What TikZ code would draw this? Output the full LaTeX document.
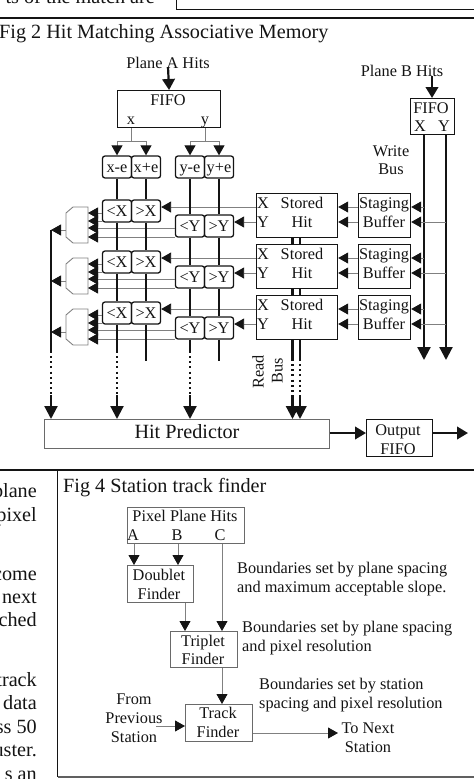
\documentclass[tikz,border=0pt]{standalone}
\usepackage{fontspec}
\setmainfont{Liberation Serif}
\usetikzlibrary{arrows.meta}
\definecolor{ink}{HTML}{141414}
\definecolor{wire}{HTML}{808080}
\tikzset{
  txt/.style={inner sep=0pt,text=ink,font=\fontsize{16.3}{18}\selectfont,text height=11pt,text depth=0pt},
  txtl/.style={txt,anchor=west},
  bigtxt/.style={txt,font=\fontsize{20.2}{22}\selectfont,text height=14pt,text depth=3.5pt},
  pagetxt/.style={bigtxt,anchor=base east},
  box/.style={draw=ink,line width=1.2pt,anchor=north west,inner sep=0pt},
  gbox/.style={draw=wire!80!ink,line width=0.9pt,anchor=north west,inner sep=0pt},
  cmp/.style={box,rounded corners=2.5pt,line width=1.3pt,minimum width=29pt,minimum height=22pt,txt,draw=ink,anchor=center},
  bus/.style={line width=2.2pt,draw=ink},
  busarrow/.style={bus,-{Triangle[length=11pt,width=12.5pt]}},
  bigarrow/.style={bus,-{Triangle[length=13pt,width=13pt]}},
  feed/.style={line width=0.9pt,draw=wire,-{Triangle[length=10pt,width=11pt,color=ink]}},
  plain/.style={line width=0.9pt,draw=wire},
  dotbus/.style={line width=2.2pt,draw=ink,dash pattern=on 2pt off 3.2pt}
}
\begin{document}
\begin{tikzpicture}[x=1pt,y=-1pt]
      \useasboundingbox (0,0) rectangle (474,779);
      % page leftovers above and beside the two figures
      \node[pagetxt] at (155,3) {ts of the match are};
      \coordinate (topa) at (176,-2);
      \coordinate (topb) at (474,9);
      \draw[ink,line width=1pt] (topa) |- (topb);
      \coordinate (rulea) at (0,18);
      \coordinate (ruleb) at (474,18);
      \draw[ink,line width=1.3pt] (rulea) -- (ruleb);
      \foreach \y/\lab in {497/plane,521/pixel,580/come,603/next,626/ched,686/track,709.5/data,733/ss 50,756.5/uster.,780/s an}
        \node[pagetxt] at (37,\y) {\lab};
      \node[bigtxt,anchor=west] (figtwo) at (-1,33) {Fig 2 Hit Matching Associative Memory};

      % plane A input
      \node[txt] (planea) at (168,63) {Plane A Hits};
      \node[box,minimum width=103pt,minimum height=37pt] (fifoa) at (117,90) {};
      \node[txt] (fifoatxt) at (168,100) {FIFO};
      \node[txt] (xout) at (131,119) {x};
      \node[txt] (yout) at (205,119) {y};
      \coordinate (planearrow) at (168,67);
      \draw[busarrow] (planearrow) -- (fifoa.north);
      % window limits
      \foreach \n/\x/\lab in {xm/117/x-e,xp/146/x+e,ym/190/y-e,yp/219/y+e}
        \node[cmp] (\n) at (\x,167) {\lab};
      \coordinate (xfork) at (131,141);
      \coordinate (yfork) at (205,141);
      \draw[plain] (fifoa.south -| xfork) -- (xfork);
      \draw[plain] (fifoa.south -| yfork) -- (yfork);
      \foreach \f/\n in {xfork/xm,xfork/xp,yfork/ym,yfork/yp}
        \draw[feed] (\f) -| (\n.north);

      % plane B input and write bus
      \node[txt] (planeb) at (402,71) {Plane B Hits};
      \node[box,minimum width=44pt,minimum height=36pt] (fifob) at (410,98) {};
      \node[txt] (fifobtxt) at (431,108) {FIFO};
      \node[txt] (xb) at (420,126) {X};
      \node[txt] (yb) at (444,126) {Y};
      \coordinate (planebarrow) at (432,76);
      \draw[busarrow] (planebarrow) -- (fifob.north -| planebarrow);
      \node[txt] (write) at (391,151) {Write};
      \node[txt] (writebus) at (391,169) {Bus};
      \coordinate (wx) at (424,360);
      \coordinate (wy) at (446,360);
      \draw[bigarrow] (fifob.south -| wx) -- (wx);
      \draw[bigarrow] (fifob.south -| wy) -- (wy);

      % one row for each stored hit
      \foreach \r/\y in {1/193,2/244,3/295}{
        \node[box,minimum width=81pt,minimum height=44pt] (hit\r) at (256,\y) {};
        \node[txt] (hitx\r) at (263,\y+10) {X};
        \node[txt] (hity\r) at (263,\y+29) {Y};
        \node[txt] (hita\r) at (302,\y+10) {Stored};
        \node[txt] (hitb\r) at (302,\y+29) {Hit};
        \node[box,minimum width=52pt,minimum height=44pt] (stag\r) at (358,\y) {};
        \node[txt] (staga\r) at (384,\y+10) {Staging};
        \node[txt] (stagb\r) at (384,\y+29) {Buffer};
        \node[cmp] (ltx\r) at (117,\y+18) {<X};
        \node[cmp] (gtx\r) at (146,\y+18) {>X};
        \node[cmp] (lty\r) at (190,\y+33) {<Y};
        \node[cmp] (gty\r) at (219,\y+33) {>Y};
        \coordinate (hx\r) at (256,\y+14);
        \coordinate (hy\r) at (256,\y+29);
        \draw[feed] (hx\r) -- (gtx\r.east |- hx\r);
        \draw[feed] (hy\r) -- (gty\r.east |- hy\r);
        \draw[feed] (stag\r.west |- hx\r) -- (hit\r.east |- hx\r);
        \draw[feed] (stag\r.west |- hy\r) -- (hit\r.east |- hy\r);
        \draw[feed] (wx |- hx\r) -- (stag\r.east |- hx\r);
        \draw[feed] (wy |- hy\r) -- (stag\r.east |- hy\r);
        % priority encoder
        \draw[wire,line width=0.9pt] (88,\y+14) -- (73,\y+14) -- (66,\y+20) -- (66,\y+44) -- (73,\y+50) -- (88,\y+50) -- cycle;
        \coordinate (muxout\r) at (66,\y+37);
        \coordinate (busin\r) at (51,\y+37);
        \draw[feed] (muxout\r) -- (busin\r);
        \coordinate (mux\r) at (88,\y);
        \draw[feed] (ltx\r.west |- 0,\y+20) -- (mux\r |- 0,\y+20);
        \draw[feed] (ltx\r.west |- 0,\y+28) -- (mux\r |- 0,\y+28);
        \draw[feed] (lty\r.west |- 0,\y+35) -- (mux\r |- 0,\y+35);
        \draw[feed] (lty\r.west |- 0,\y+44) -- (mux\r |- 0,\y+44);
      }

      % read lines between the comparators
      \foreach \a/\b in {xm/ltx1,xp/gtx1,ym/lty1,yp/gty1,ltx1/ltx2,gtx1/gtx2,lty1/lty2,gty1/gty2,ltx2/ltx3,gtx2/gtx3,lty2/lty3,gty2/gty3}
        \draw[bus] (\a.south) -- (\b.north);
      \coordinate (rdl) at (292.5,395);
      \coordinate (rdr) at (300,395);
      \foreach \a/\b in {hit1/hit2,hit2/hit3}{
        \draw[bus] (\a.south -| rdl) -- (\b.north -| rdl);
        \draw[bus] (\a.south -| rdr) -- (\b.north -| rdr);}
      \node[txt,rotate=90] (read) at (258,372) {Read};
      \node[txt,rotate=90] (readbus) at (277,371) {Bus};

      % hit predictor and output
      \node[gbox,minimum width=285pt,minimum height=29pt] (pred) at (44,419) {};
      \node[bigtxt] (predtxt) at (187,433) {Hit Predictor};
      \node[box,minimum width=66pt,minimum height=37pt] (outf) at (366,419) {};
      \node[txt] (outa) at (398,430) {Output};
      \node[txt] (outb) at (398,449) {FIFO};
      \coordinate (outpt) at (468,433);
      \draw[busarrow] (pred.east |- outpt) -- (outf.west |- outpt);
      \draw[busarrow] (outf.east |- outpt) -- (outpt);
      \coordinate (tapl) at (51,230);
      \draw[bus] (tapl) -- (51,353);
      \foreach \n/\x in {bl/51,cl/117,dl/190}{
        \coordinate (\n) at (\x,395);
        \draw[dotbus] (\x,356) -- (\n);
        \draw[bigarrow] (\n) -- (pred.north -| \n);}
      \draw[bus] (ltx3.south) -- (117,353);
      \draw[bus] (gtx3.south) -- (146,361);
      \draw[bus] (lty3.south) -- (190,353);
      \draw[bus] (gty3.south) -- (219,361);
      \foreach \n in {rdl,rdr}{
        \draw[bus] (hit3.south -| \n) -- ([yshift=34pt]\n);
        \draw[dotbus] ([yshift=31pt]\n) -- (\n);
        \draw[bigarrow] (\n) -- (pred.north -| \n);}

      % lower figure frame
      \coordinate (framea) at (0,470);
      \coordinate (frameb) at (474,470);
      \coordinate (framec) at (57.5,470);
      \coordinate (framed) at (57.5,777);
      \coordinate (framee) at (474,777);
      \draw[ink,line width=2.6pt] (framea) -- (frameb);
      \draw[ink,line width=1.6pt] (framec) -- (framed);
      \draw[wire!70!ink,line width=2.4pt] (framed) -- (framee);
      \node[bigtxt,anchor=west] (figfour) at (63,487) {Fig 4 Station track finder};
      \node[gbox,minimum width=117pt,minimum height=36pt] (pix) at (127,507) {};
      \node[txt] (pixtxt) at (185,516) {Pixel Plane Hits};
      \node[txt] (pa) at (133,535) {A};
      \node[txt] (pb) at (177,535) {B};
      \node[txt] (pc) at (220,535) {C};
      \node[gbox,minimum width=66pt,minimum height=37pt] (dbl) at (127,565) {};
      \node[txt] (dbla) at (159,575) {Doublet};
      \node[txt] (dblb) at (159,594) {Finder};
      \node[gbox,minimum width=67pt,minimum height=36pt] (trp) at (170,631) {};
      \node[txt] (trpa) at (203,641) {Triplet};
      \node[txt] (trpb) at (203,659) {Finder};
      \node[gbox,minimum width=67pt,minimum height=37pt] (trk) at (185,704) {};
      \node[txt] (trka) at (218,713) {Track};
      \node[txt] (trkb) at (218,732) {Finder};
      \coordinate (ca) at (134,0);
      \coordinate (cb) at (178,0);
      \coordinate (cc) at (222,0);
      \coordinate (cd) at (185,0);
      \coordinate (from) at (156,726);
      \coordinate (tonext) at (338,733);
      \draw[feed] (pix.south -| ca) -- (dbl.north -| ca);
      \draw[feed] (pix.south -| cb) -- (dbl.north -| cb);
      \draw[feed] (dbl.south -| cd) -- (trp.north -| cd);
      \draw[feed] (pix.south -| cc) -- (trp.north -| cc);
      \draw[feed] (trp.south -| cc) -- (trk.north -| cc);
      \draw[feed] (from) -- (trk.west |- from);
      \draw[feed] (trk.east |- tonext) -- (tonext);
      \node[txt] (froma) at (134,699) {From};
      \node[txt] (fromb) at (134,718) {Previous};
      \node[txt] (fromc) at (134,737) {Station};
      \node[txt] (nexta) at (368,728) {To Next};
      \node[txt] (nextb) at (368,747) {Station};
      \node[txtl] (bdya) at (237,568) {Boundaries set by plane spacing};
      \node[txtl] (bdyb) at (237,587) {and maximum acceptable slope.};
      \node[txtl] (bdyc) at (242,627) {Boundaries set by plane spacing};
      \node[txtl] (bdyd) at (242,646) {and pixel resolution};
      \node[txtl] (bdye) at (259,684) {Boundaries set by station};
      \node[txtl] (bdyf) at (259,703) {spacing and pixel resolution};
    \end{tikzpicture}
\end{document}
